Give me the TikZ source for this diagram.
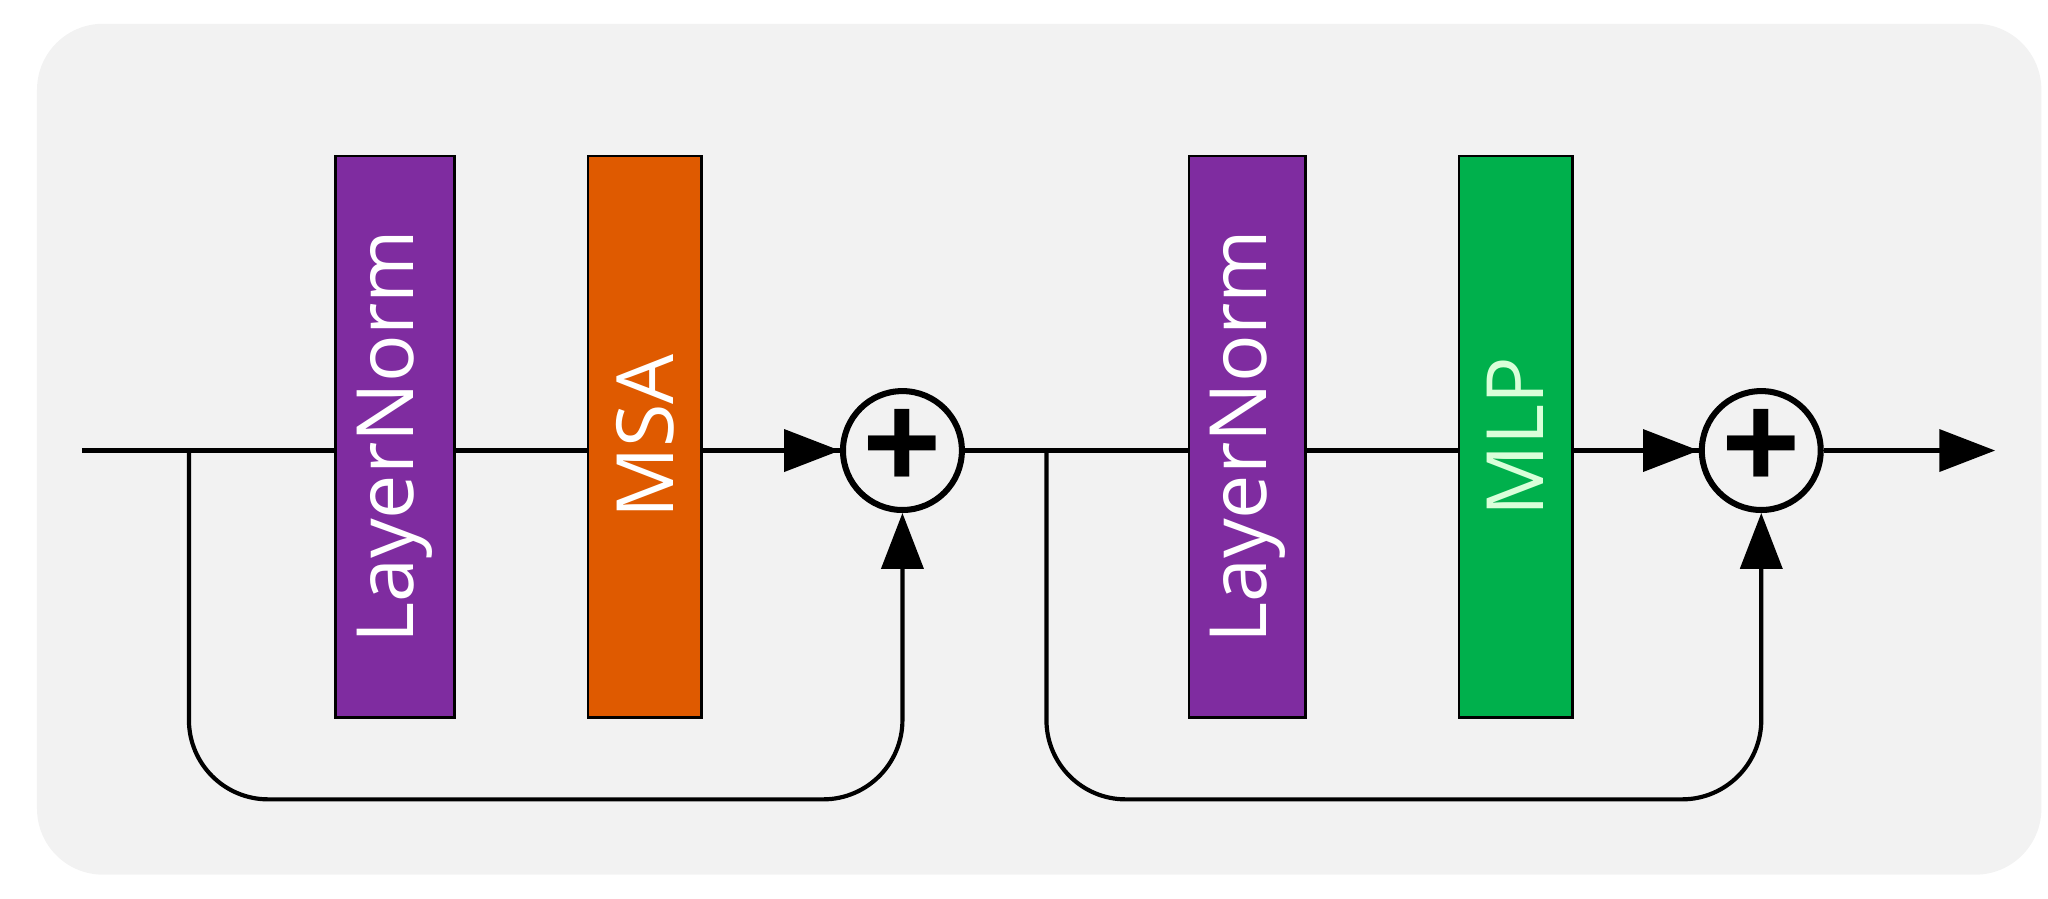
\documentclass[tikz,border=0pt]{standalone}
\usepackage{fontspec}
\setmainfont{Open Sans}
\usetikzlibrary{arrows.meta}
\definecolor{bg}{HTML}{F2F2F2}
\definecolor{ln}{HTML}{7F2CA0}
\definecolor{msa}{HTML}{DF5A00}
\definecolor{mlp}{HTML}{00B04C}
\begin{document}
\begin{tikzpicture}[x=0.01cm,y=-0.01cm,
  blk/.style={draw=black,line width=0.5pt,minimum width=#1*0.01cm,minimum height=425*0.01cm,inner sep=0pt},
  lbl/.style={rotate=90,font=\fontsize{17}{20}\selectfont,text=white},
  plus/.style={circle,draw=black,line width=1.3pt,minimum size=90*0.01cm,inner sep=0pt,fill=bg,font=\fontsize{30}{30}\selectfont\bfseries},
  wire/.style={line width=0.9pt},
  arr/.style={wire,-{Triangle[length=12pt,width=9pt]}},
  rc/.style={rounded corners=60*0.01cm}]
\useasboundingbox (0,0) rectangle (1550,680);
\fill[bg,rounded corners=50*0.01cm] (28,18) rectangle (1545,662);
\coordinate (in) at (62,341);
\coordinate (s1) at (143,341);
\coordinate (s2) at (792,341);
\coordinate (out) at (1510,341);
\node[plus] (p1) at (683,341) {+};
\node[plus] (p2) at (1333,341) {+};
\draw[wire] (in) -- (p1.west);
\draw[wire] (p1.east) -- (p2.west);
\node[blk=90,fill=ln] (ln1) at (299,330.5) {};
\node[lbl] at (ln1) {LayerNorm};
\node[blk=86,fill=msa] (msa) at (488,330.5) {};
\node[lbl] at (msa) {MSA};
\node[blk=88,fill=ln] (ln2) at (944,330.5) {};
\node[lbl] at (ln2) {LayerNorm};
\node[blk=86,fill=mlp] (mlp) at (1147,330.5) {};
\node[lbl,text={green!15!white}] at (mlp) {MLP};
\draw[arr] (msa.east|-p1) -- (p1.west);
\draw[arr] (mlp.east|-p2) -- (p2.west);
\draw[arr] (p2.east) -- (out);
\draw[arr,rc] (s1) -- (143,605) -- (683,605) -- (p1.south);
\draw[arr,rc] (s2) -- (792,605) -- (1333,605) -- (p2.south);
\end{tikzpicture}
\end{document}
